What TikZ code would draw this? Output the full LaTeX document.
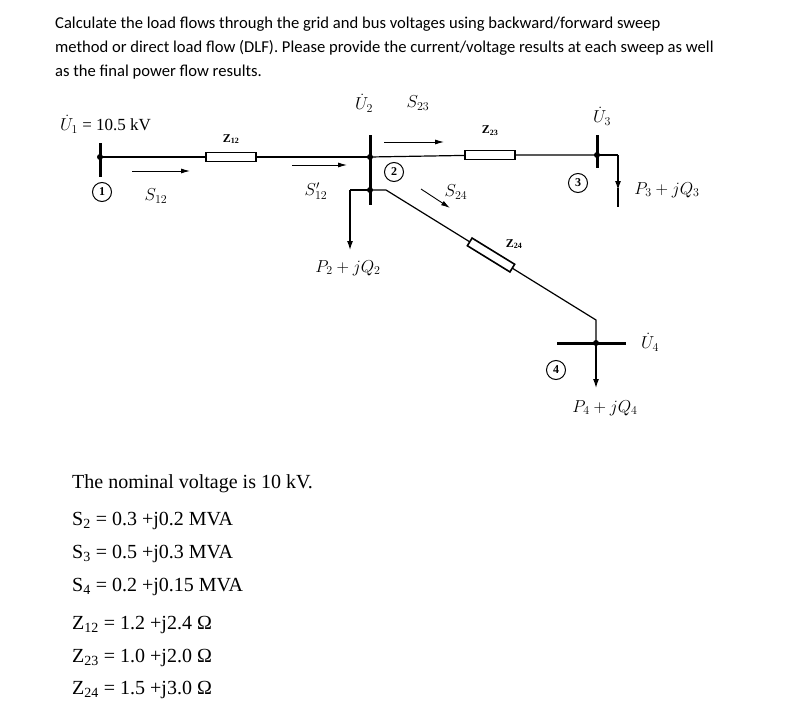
\documentclass[tikz,border=0pt]{standalone}
\usepackage{fontspec}
\setmainfont{Liberation Serif}
\newfontfamily\hdr{Carlito}
\usetikzlibrary{arrows.meta}
\begin{document}
\begin{tikzpicture}[x=1pt,y=-1pt,
  wire/.style={line width=1.2pt},
  bar/.style={line width=3pt},
  imp/.style={draw,line width=1.6pt,minimum width=50pt,minimum height=9pt,inner sep=0pt},
  flow/.style={line width=0.9pt,-{Latex[length=9pt,width=5pt]}},
  busno/.style={circle,draw,line width=1pt,minimum size=19pt,inner sep=0pt,font=\fontsize{12}{12}\selectfont\bfseries},
  lbl/.style={font=\fontsize{17}{17}\selectfont,inner sep=0pt},
  zl/.style={font=\fontsize{12}{12}\selectfont\bfseries,inner sep=1pt},
  txt/.style={anchor=west,font=\fontsize{20}{20}\selectfont,inner sep=0pt},
  hd/.style={anchor=west,font=\hdr\fontsize{16.6}{16.6}\selectfont,inner sep=0pt}]
\useasboundingbox (0,0) rectangle (812,723);
% header
\node[hd,text width=658pt,align=justify] (h1) at (55,24) {Calculate the load flows through the grid and bus voltages using backward/forward sweep\hfill\null};
\node[hd] (h2) at (55,48) {method or direct load flow (DLF). Please provide the current/voltage results at each sweep as well};
\node[hd] (h3) at (55,72) {as the final power flow results.};
% coordinates
\coordinate (b1t) at (100,143); \coordinate (b1b) at (100,177); \coordinate (b1) at (100,157);
\coordinate (b2t) at (370,135); \coordinate (b2b) at (370,205); \coordinate (b2) at (370,157); \coordinate (b2l) at (370,190);
\coordinate (b3t) at (597,135); \coordinate (b3b) at (597,168); \coordinate (b3) at (597,155);
\coordinate (b4l) at (557,343); \coordinate (b4r) at (626,343); \coordinate (b4) at (596,343);
\coordinate (k24a) at (386,190); \coordinate (k24b) at (596,320);
\coordinate (ld2a) at (350,190); \coordinate (ld2) at (350,250);
\coordinate (ld3a) at (618,155); \coordinate (ld3) at (618,207);
\coordinate (ld4) at (596,388);
% buses
\draw[bar] (b1t) -- (b1b);
\draw[bar] (b2t) -- (b2b);
\draw[bar] (b3t) -- (b3b);
\draw[bar] (b4l) -- (b4r);
\foreach \p in {b1,b2,b2l,b3,b4} \fill (\p) circle (3pt);
% impedances
\node[imp] (z12) at (231,157) {};
\node[imp] (z23) at (490,155) {};
\node[imp,rotate=-31.6] (z24) at (491,255) {};
\draw[wire] (b1) -- (z12) -- (b2);
\draw[wire] (b2) -- (z23) -- (b3);
\draw[wire] (b2l) -- (k24a) -- (z24) -- (k24b) -- (b4);
% loads
\draw[wire] (b2l) -- (ld2a);
\draw[wire,-{Latex[length=9pt,width=6pt]}] (ld2a) -- (ld2);
\draw[wire] (b3) -- (ld3a);
\draw[wire,-{Latex[length=9pt,width=6pt]}] (ld3a) -- (618,190);
\draw[wire] (618,188) -- (ld3);
\draw[wire,-{Latex[length=9pt,width=6pt]}] (b4) -- (ld4);
% flow arrows
\draw[flow] (132,171) -- (190,171);
\draw[flow] (292,165) -- (347,165);
\draw[flow] (384,142) -- (444,142);
\draw[flow] (421,189) -- (450,208);
% bus numbers
\node[busno] (n1) at (102,192) {1};
\node[busno] (n2) at (394,172) {2};
\node[busno] (n3) at (578,183) {3};
\node[busno] (n4) at (556,370) {4};
% labels
\node[lbl,anchor=west] (u1) at (60,124) {$\dot U_1$ = 10.5 kV};
\node[lbl] (s12) at (156,196) {$S_{12}$};
\node[zl] (lz12) at (231,139) {Z\textsubscript{12}};
\node[lbl] (s12p) at (316,191) {$S'_{12}$};
\node[lbl] (u2) at (364,103) {$\dot U_2$};
\node[lbl] (s23) at (418,103) {$S_{23}$};
\node[lbl] (p2) at (348,268) {$P_2+jQ_2$};
\node[zl] (lz23) at (490,131) {Z\textsubscript{23}};
\node[lbl] (u3) at (602,116) {$\dot U_3$};
\node[lbl] (p3) at (667,190) {$P_3+jQ_3$};
\node[lbl] (s24) at (456,192) {$S_{24}$};
\node[zl] (lz24) at (514,244) {Z\textsubscript{24}};
\node[lbl] (u4) at (650,342) {$\dot U_4$};
\node[lbl] (p4) at (605,408) {$P_4+jQ_4$};
% data
\node[txt] (t0) at (72,484) {The nominal voltage is 10 kV.};
\node[txt] (t1) at (72,521) {S\textsubscript{2} = 0.3 +j0.2 MVA};
\node[txt] (t2) at (72,554) {S\textsubscript{3} = 0.5 +j0.3 MVA};
\node[txt] (t3) at (72,587) {S\textsubscript{4} = 0.2 +j0.15 MVA};
\node[txt] (t4) at (72,625) {Z\textsubscript{12} = 1.2 +j2.4 Ω};
\node[txt] (t5) at (72,658) {Z\textsubscript{23} = 1.0 +j2.0 Ω};
\node[txt] (t6) at (72,690) {Z\textsubscript{24} = 1.5 +j3.0 Ω};
\end{tikzpicture}
\end{document}
